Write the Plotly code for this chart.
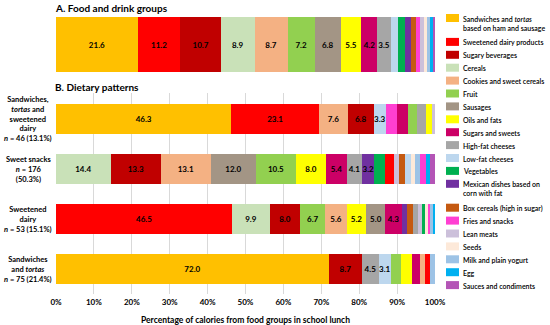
import plotly.graph_objects as go

# ---------------- data ----------------
group_keys = ["sandwiches", "sweet_dairy", "sugary_bev", "cereals", "cookies", "fruit",
              "sausages", "oils", "sugars", "hf_cheese", "lf_cheese", "vegetables",
              "mexican", "box_cereals", "fries", "lean_meats", "seeds", "milk", "egg", "sauces"]
legend_labels = ["Sandwiches and <i>tortas</i><br>based on ham and sausage",
                 "Sweetened dairy products", "Sugary beverages", "Cereals",
                 "Cookies and sweet cereals", "Fruit", "Sausages", "Oils and fats",
                 "Sugars and sweets", "High-fat cheeses", "Low-fat cheeses", "Vegetables",
                 "Mexican dishes based on<br>corn with fat", "Box cereals (high in sugar)",
                 "Fries and snacks", "Lean meats", "Seeds", "Milk and plain yogurt", "Egg",
                 "Sauces and condiments"]
group_colors = ["#FFC000", "#FF0000", "#C00000", "#C9E1B8", "#F4B183", "#92D050",
                "#A39585", "#FFFF00", "#CC0066", "#A6A6A6", "#BDD7EE", "#00B050",
                "#7030A0", "#C55A11", "#FF3FD2", "#CCC0DA", "#FDE9D9", "#9DC3E6",
                "#00B0F0", "#B455B6"]

# Panel A: food and drink groups (same order as group_keys)
panel_a_values = [21.6, 11.2, 10.7, 8.9, 8.7, 7.2, 6.8, 5.5, 4.2, 3.5,
                  1.9, 1.8, 1.7, 1.2, 1.1, 1.0, 0.9, 0.8, 0.7, 0.6]

# Panel B: dietary patterns
pattern_ids = ["p1", "p2", "p3", "p4"]
pattern_labels = ["Sandwiches,<br><i>tortas</i> and<br>sweetened<br>dairy<br><i>n</i> = 46 (13.1%)",
                  "Sweet snacks<br><i>n</i> = 176<br>(50.3%)",
                  "Sweetened<br>dairy<br><i>n</i> = 53 (15.1%)",
                  "Sandwiches<br>and <i>tortas</i><br><i>n</i> = 75 (21.4%)"]

p1_groups = ["sandwiches", "sweet_dairy", "cookies", "sugary_bev", "lf_cheese", "fries",
             "sugars", "fruit", "hf_cheese", "oils", "lean_meats"]
p1_values = [46.3, 23.1, 7.6, 6.8, 3.3, 3.0, 2.9, 2.3, 2.3, 1.6, 0.8]

p2_groups = ["cereals", "sugary_bev", "cookies", "sausages", "fruit", "oils", "sugars",
             "hf_cheese", "mexican", "vegetables", "sweet_dairy", "lean_meats", "box_cereals",
             "lf_cheese", "seeds", "milk", "fries", "egg", "sauces"]
p2_values = [14.4, 13.3, 13.1, 12.0, 10.5, 8.0, 5.4, 4.1, 3.2, 2.8, 2.4, 1.4, 1.6,
             1.4, 1.2, 1.3, 1.4, 1.2, 1.3]

p3_groups = ["sweet_dairy", "cereals", "sugary_bev", "fruit", "cookies", "oils", "sausages",
             "sugars", "mexican", "box_cereals", "hf_cheese", "lean_meats", "vegetables",
             "seeds", "fries", "milk", "egg"]
p3_values = [46.5, 9.9, 8.0, 6.7, 5.6, 5.2, 5.0, 4.3, 1.5, 1.4, 1.4, 1.1, 0.8,
             0.7, 0.7, 0.6, 0.6]

p4_groups = ["sandwiches", "sugary_bev", "hf_cheese", "lf_cheese", "fruit", "oils",
             "sugars", "cookies", "sweet_dairy", "milk"]
p4_values = [72.0, 8.7, 4.5, 3.1, 2.8, 2.9, 2.0, 1.3, 1.5, 1.2]

x_ticks = [0, 10, 20, 30, 40, 50, 60, 70, 80, 90, 100]
x_title = "Percentage of calories from food groups in school lunch"
title_a = "A. Food and drink groups"
title_b = "B. Dietary patterns"

# ---------------- figure ----------------
FONT = "Lato"
LABEL_MIN = 3.05
color_of = dict(zip(group_keys, group_colors))

W, H = 550, 325
ML, MR, MT, MB = 56, 115, 17, 31
PW, PH = W - ML - MR, H - MT - MB


def py(ypix):
    return (H - MB - ypix) / PH


def px(xpix):
    return (xpix - ML) / PW


fig = go.Figure()

# Panel A
for key, val in zip(group_keys, panel_a_values):
    fig.add_trace(go.Bar(
        orientation="h", y=["A"], x=[val], xaxis="x2", yaxis="y2", width=1,
        marker=dict(color=color_of[key], line=dict(width=0)),
        text=[f"{val:.1f}" if val >= LABEL_MIN else ""],
        textposition="inside", insidetextanchor="middle", textangle=0,
        textfont=dict(family=FONT, size=8, color="black", weight="bold"),
        showlegend=False, hoverinfo="skip"))

# Panel B
rows_g = [p1_groups, p2_groups, p3_groups, p4_groups]
rows_v = [p1_values, p2_values, p3_values, p4_values]
max_len = max(len(g) for g in rows_g)
for k in range(max_len):
    xs, cs, ts = [], [], []
    for g, v in zip(rows_g, rows_v):
        if k < len(v):
            xs.append(v[k]); cs.append(color_of[g[k]])
            ts.append(f"{v[k]:.1f}" if v[k] >= LABEL_MIN else "")
        else:
            xs.append(None); cs.append("white"); ts.append("")
    fig.add_trace(go.Bar(
        orientation="h", y=pattern_ids, x=xs, xaxis="x", yaxis="y",
        marker=dict(color=cs, line=dict(width=0)), text=ts,
        textposition="inside", insidetextanchor="middle", textangle=0,
        textfont=dict(family=FONT, size=8, color="black", weight="bold"),
        showlegend=False, hoverinfo="skip"))

annotations = []
shapes = []
# row labels
for pid, lab in zip(pattern_ids, pattern_labels):
    annotations.append(dict(x=px(28), xref="paper", y=pid, yref="y", text=lab,
                            showarrow=False, xanchor="center", yanchor="middle",
                            align="center",
                            font=dict(family=FONT, size=7.5, color="black", weight="bold")))
# panel titles
annotations.append(dict(x=px(53), xref="paper", y=py(8), yref="paper", text=title_a,
                        showarrow=False, xanchor="left", yanchor="middle",
                        font=dict(family=FONT, size=10, color="black", weight="bold")))
annotations.append(dict(x=px(53), xref="paper", y=py(87), yref="paper", text=title_b,
                        showarrow=False, xanchor="left", yanchor="middle",
                        font=dict(family=FONT, size=10, color="black", weight="bold")))

# manual legend
y_line = 18.0
for lab, col in zip(legend_labels, group_colors):
    nlines = lab.count("<br>") + 1
    shapes.append(dict(type="rect", xref="paper", yref="paper",
                       x0=px(446), x1=px(459), y0=py(y_line - 4), y1=py(y_line + 4),
                       fillcolor=col, line=dict(width=0)))
    annotations.append(dict(x=px(461), xref="paper", y=py(y_line - 5.5), yref="paper",
                            text=lab, showarrow=False, xanchor="left", yanchor="top",
                            align="left",
                            font=dict(family=FONT, size=7, color="black", weight=600)))
    y_line += 12.9 + 11.0 * (nlines - 1)

fig.update_layout(
    width=W, height=H, margin=dict(l=ML, r=MR, t=MT, b=MB, autoexpand=False),
    paper_bgcolor="white", plot_bgcolor="white",
    barmode="stack", bargap=0.4,
    uniformtext=dict(minsize=8, mode="show"),
    font=dict(family=FONT, size=8, color="black"),
    xaxis=dict(domain=[0, 1], range=[0, 100], anchor="y", tickvals=x_ticks,
               ticktext=[f"{t}%" for t in x_ticks], showgrid=True, gridcolor="#D9D9D9",
               gridwidth=1, zeroline=False, showline=False, ticks="",
               ticklabelstandoff=2, automargin=False,
               tickfont=dict(family=FONT, size=8, color="black", weight="bold"),
               title=dict(text=x_title, standoff=11,
                          font=dict(family=FONT, size=8.5, color="black", weight="bold"))),
    yaxis=dict(domain=[0, py(93)], anchor="x", categoryorder="array",
               categoryarray=pattern_ids, autorange="reversed", showticklabels=False,
               showgrid=False, zeroline=False, ticks="", automargin=False),
    xaxis2=dict(domain=[0, 1], range=[0, 100], anchor="y2", visible=False),
    yaxis2=dict(domain=[py(72), 1], anchor="x2", visible=False, range=[-0.5, 0.5]),
    annotations=annotations, shapes=shapes, showlegend=False,
)

fig.write_html("out.html", config={"displayModeBar": False},
               post_script="document.body.style.margin='0px';document.body.style.padding='0px';")
